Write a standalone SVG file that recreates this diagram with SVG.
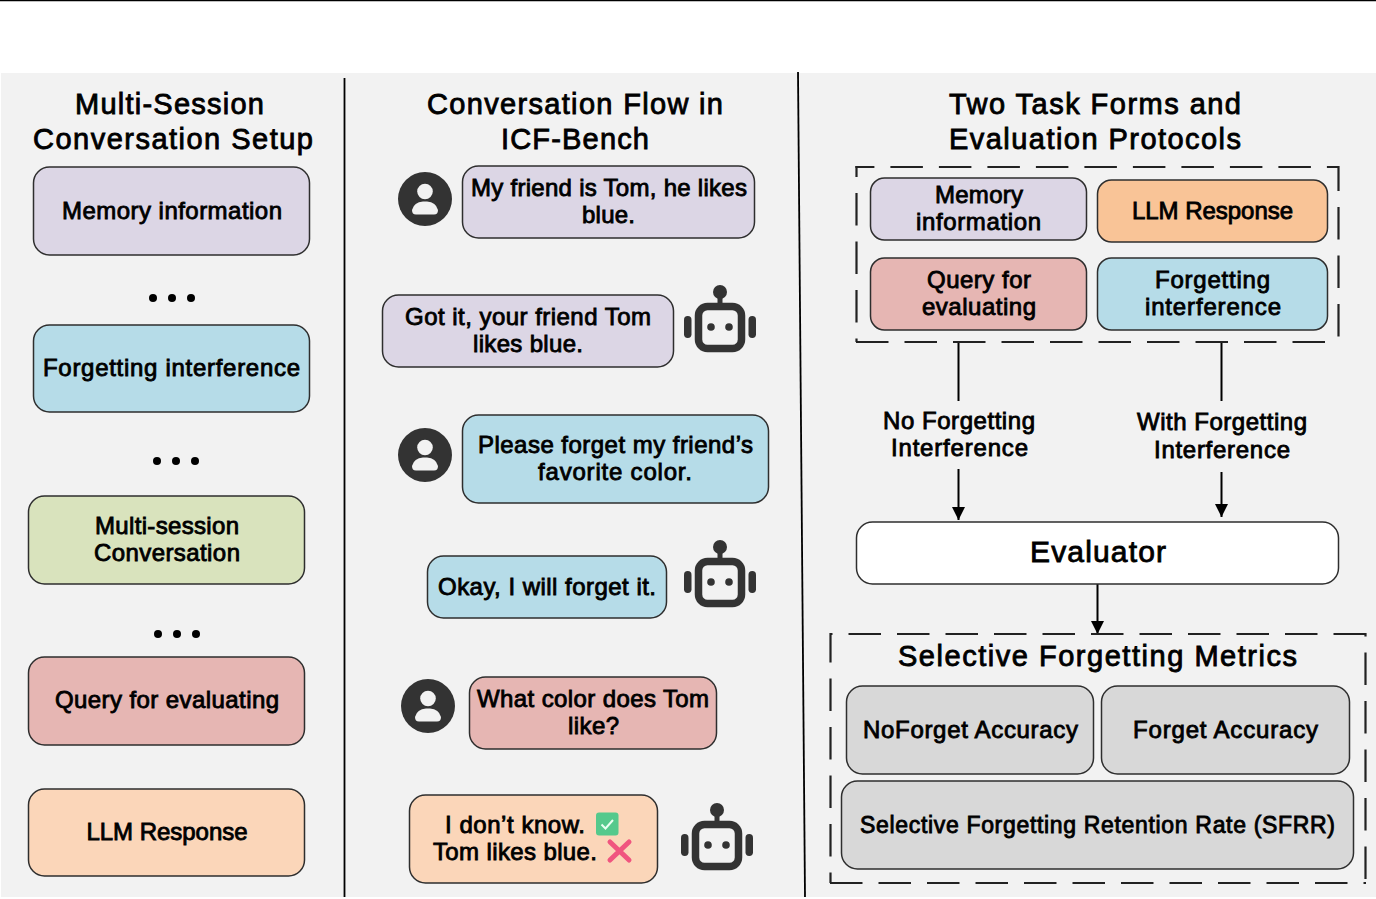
<svg xmlns="http://www.w3.org/2000/svg" width="1376" height="899" viewBox="0 0 1376 899">
<style>
text{font-family:"Liberation Sans",Arial,sans-serif;fill:#000;stroke:#000;stroke-width:.85px;text-anchor:middle}
.t{font-size:29px}
.b{font-size:24px}
.s{font-size:23px}
.box{stroke:#2e2e2e;stroke-width:1.5}
.purple{fill:#dcd6e5}.blue{fill:#b6dce8}.green{fill:#d9e3bd}.red{fill:#e6b6b3}.peach{fill:#fbd6b9}.orange{fill:#f9c497}.grey{fill:#d8d8d8}.white{fill:#fff}
.div{stroke:#000;stroke-width:1.8;fill:none}
.dash{fill:none;stroke:#222;stroke-width:2.2;stroke-dasharray:32.500 16}
.conn{fill:none;stroke:#000;stroke-width:2}
.dot{fill:#000;stroke:none}
</style>
<defs>
<marker id="arr" markerUnits="userSpaceOnUse" markerWidth="14" markerHeight="14" refX="13" refY="6.500" orient="auto" viewBox="0 0 14 13"><path d="M0 0L13 6.500L0 13Z" fill="#000"/></marker>
<g id="user"><circle cx="0" cy="0" r="27" fill="#333"/><circle cx="0" cy="-7.500" r="7.800" fill="#f2f2f2"/><path d="M-9 15.500Q-13 15.500-13 11Q-11 3-2 2.500L2 2.500Q11 3 13 11Q13 15.500 9 15.500Z" fill="#f2f2f2"/></g>
<g id="bot"><circle cx="0" cy="-35" r="7" fill="#333"/><rect x="-2.500" y="-31" width="5" height="11" fill="#333"/><rect x="-21.500" y="-20.500" width="43" height="42" rx="9" fill="#f2f2f2" stroke="#333" stroke-width="7.500"/><circle cx="-9" cy="0" r="3.800" fill="#333"/><circle cx="9" cy="0" r="3.800" fill="#333"/><rect x="-36" y="-11" width="7.500" height="22" rx="3.700" fill="#333"/><rect x="28.500" y="-11" width="7.500" height="22" rx="3.700" fill="#333"/></g>
</defs>
<rect width="1376" height="899" fill="#fff"/>
<rect x="1" y="73" width="1375" height="824" fill="#f2f2f2"/>
<line x1="0" y1="0.500" x2="1376" y2="0.500" stroke="#000" stroke-width="1.500"/>
<g id="connectors">
<line class="div" x1="344.500" y1="78" x2="344.500" y2="897"/>
<line class="div" x1="798" y1="72" x2="805" y2="897"/>
<line class="conn" x1="958.500" y1="342" x2="958.500" y2="401"/>
<line class="conn" x1="958.500" y1="469" x2="958.500" y2="520" marker-end="url(#arr)"/>
<line class="conn" x1="1221.500" y1="342" x2="1221.500" y2="401"/>
<line class="conn" x1="1221.500" y1="472" x2="1221.500" y2="517" marker-end="url(#arr)"/>
<line class="conn" x1="1097.500" y1="584" x2="1097.500" y2="634" marker-end="url(#arr)"/>
</g>
<g id="headings">
<text class="t" x="169.500" y="114" textLength="189">Multi-Session</text>
<text class="t" x="173" y="149" textLength="280">Conversation Setup</text>
<text class="t" x="575" y="114" textLength="296">Conversation Flow in</text>
<text class="t" x="575" y="149" textLength="148">ICF-Bench</text>
<text class="t" x="1095" y="114" textLength="292">Two Task Forms and</text>
<text class="t" x="1095" y="149" textLength="292">Evaluation Protocols</text>
</g>
<g id="setup-memory"><rect class="box purple" x="33.500" y="167" width="276" height="88" rx="16"/><text class="b" x="172" y="219" textLength="220">Memory information</text></g>
<g id="dots-1"><circle class="dot" cx="153" cy="298" r="4"/><circle class="dot" cx="172" cy="298" r="4"/><circle class="dot" cx="191" cy="298" r="4"/></g>
<g id="setup-forgetting"><rect class="box blue" x="33.500" y="325" width="276" height="87" rx="16"/><text class="b" x="171.500" y="376" textLength="257">Forgetting interference</text></g>
<g id="dots-2"><circle class="dot" cx="157" cy="461" r="4"/><circle class="dot" cx="176" cy="461" r="4"/><circle class="dot" cx="195" cy="461" r="4"/></g>
<g id="setup-multi"><rect class="box green" x="28.500" y="496" width="276" height="88" rx="16"/><text class="b" x="167" y="534" textLength="144">Multi-session</text><text class="b" x="167" y="561" textLength="146">Conversation</text></g>
<g id="dots-3"><circle class="dot" cx="158" cy="634" r="4"/><circle class="dot" cx="177" cy="634" r="4"/><circle class="dot" cx="196" cy="634" r="4"/></g>
<g id="setup-query"><rect class="box red" x="28.500" y="657" width="276" height="88" rx="16"/><text class="b" x="167" y="708" textLength="224">Query for evaluating</text></g>
<g id="setup-llm"><rect class="box peach" x="28.500" y="789" width="276" height="87" rx="16"/><text class="b" x="167" y="840" textLength="161">LLM Response</text></g>

<g id="user-1"><use href="#user" x="425" y="199"/></g>
<g id="msg-1"><rect class="box purple" x="462.500" y="166" width="292" height="72" rx="16"/><text class="b" x="609" y="196" textLength="276">My friend is Tom, he likes</text><text class="b" x="608.500" y="223" textLength="53">blue.</text></g>
<g id="msg-2"><rect class="box purple" x="382.500" y="295" width="291" height="72" rx="16"/><text class="b" x="528" y="325" textLength="246">Got it, your friend Tom</text><text class="b" x="528" y="352" textLength="110">likes blue.</text></g>
<g id="bot-1"><use href="#bot" x="720" y="327"/></g>
<g id="user-2"><use href="#user" x="425" y="455"/></g>
<g id="msg-3"><rect class="box blue" x="462.500" y="415" width="306" height="88" rx="16"/><text class="b" x="615.500" y="453" textLength="275">Please forget my friend’s</text><text class="b" x="615" y="480" textLength="154">favorite color.</text></g>
<g id="msg-4"><rect class="box blue" x="427.500" y="556" width="239" height="62" rx="16"/><text class="b" x="547" y="595" textLength="218">Okay, I will forget it.</text></g>
<g id="bot-2"><use href="#bot" x="720" y="582"/></g>
<g id="user-3"><use href="#user" x="428" y="706"/></g>
<g id="msg-5"><rect class="box red" x="469.500" y="677" width="247" height="72" rx="16"/><text class="b" x="593" y="707" textLength="232">What color does Tom</text><text class="b" x="593.500" y="734" textLength="51">like?</text></g>
<g id="msg-6"><rect class="box peach" x="409.500" y="795" width="248" height="88" rx="16"/><text class="b" x="515" y="833" textLength="140">I don’t know.</text><text class="b" x="515" y="860" textLength="164">Tom likes blue.</text>
<rect x="596" y="812.500" width="22.500" height="23" rx="3" fill="#55c98c"/><path d="M601.500 824.500L605.500 828.500L613 820" fill="none" stroke="#eafff2" stroke-width="2"/>
<path d="M610 842L629 860M629 842L610 860" stroke="#f0557f" stroke-width="5" stroke-linecap="round" fill="none"/></g>
<g id="bot-3"><use href="#bot" x="717" y="845"/></g>

<g id="task-frame"><g class="dash">
<line x1="855.400" y1="167" x2="1339" y2="167" stroke-dashoffset="13.500"/>
<line x1="1338.500" y1="166" x2="1338.500" y2="342" stroke-dashoffset="7.500"/>
<line x1="856" y1="342" x2="1338" y2="342"/>
<line x1="856.500" y1="166" x2="856.500" y2="342" stroke-dashoffset="21.500"/>
</g></g>
<g id="task-memory"><rect class="box purple" x="870.500" y="178" width="216" height="62" rx="14"/><text class="b" x="979" y="203" textLength="88">Memory</text><text class="b" x="978.500" y="230" textLength="125">information</text></g>
<g id="task-llm"><rect class="box orange" x="1097.500" y="180" width="230" height="62" rx="14"/><text class="b" x="1212.500" y="219" textLength="161">LLM Response</text></g>
<g id="task-query"><rect class="box red" x="870.500" y="258" width="216" height="72" rx="14"/><text class="b" x="979" y="288" textLength="104">Query for</text><text class="b" x="979" y="315" textLength="114">evaluating</text></g>
<g id="task-forgetting"><rect class="box blue" x="1097.500" y="258" width="230" height="72" rx="14"/><text class="b" x="1212.500" y="288" textLength="115">Forgetting</text><text class="b" x="1213" y="315" textLength="136">interference</text></g>
<g id="label-no"><text class="b" x="959" y="429" textLength="152">No Forgetting</text><text class="b" x="959.500" y="456" textLength="137">Interference</text></g>
<g id="label-with"><text class="b" x="1222" y="430" textLength="170">With Forgetting</text><text class="b" x="1222" y="458" textLength="136">Interference</text></g>
<g id="evaluator"><rect class="box white" x="856.500" y="522" width="482" height="62" rx="16"/><text x="1098" y="562" font-size="30" textLength="136">Evaluator</text></g>
<g id="metrics-frame"><g class="dash">
<line x1="830" y1="634" x2="1366" y2="634" stroke-dashoffset="30"/>
<line x1="1365.500" y1="633" x2="1365.500" y2="883" stroke-dashoffset="29"/>
<line x1="830" y1="883" x2="1366" y2="883"/>
<line x1="830.500" y1="633" x2="830.500" y2="883" stroke-dashoffset="3"/>
</g><text class="t" x="1097.500" y="666" textLength="399">Selective Forgetting Metrics</text></g>
<g id="metric-noforget"><rect class="box grey" x="846.500" y="686" width="247" height="88" rx="16"/><text class="b" x="970.500" y="738" textLength="215">NoForget Accuracy</text></g>
<g id="metric-forget"><rect class="box grey" x="1101.500" y="686" width="248" height="88" rx="16"/><text class="b" x="1225.500" y="738" textLength="185">Forget Accuracy</text></g>
<g id="metric-sfrr"><rect class="box grey" x="841.500" y="781" width="512" height="88" rx="16"/><text class="s" x="1097.500" y="833" textLength="475">Selective Forgetting Retention Rate (SFRR)</text></g>
</svg>
